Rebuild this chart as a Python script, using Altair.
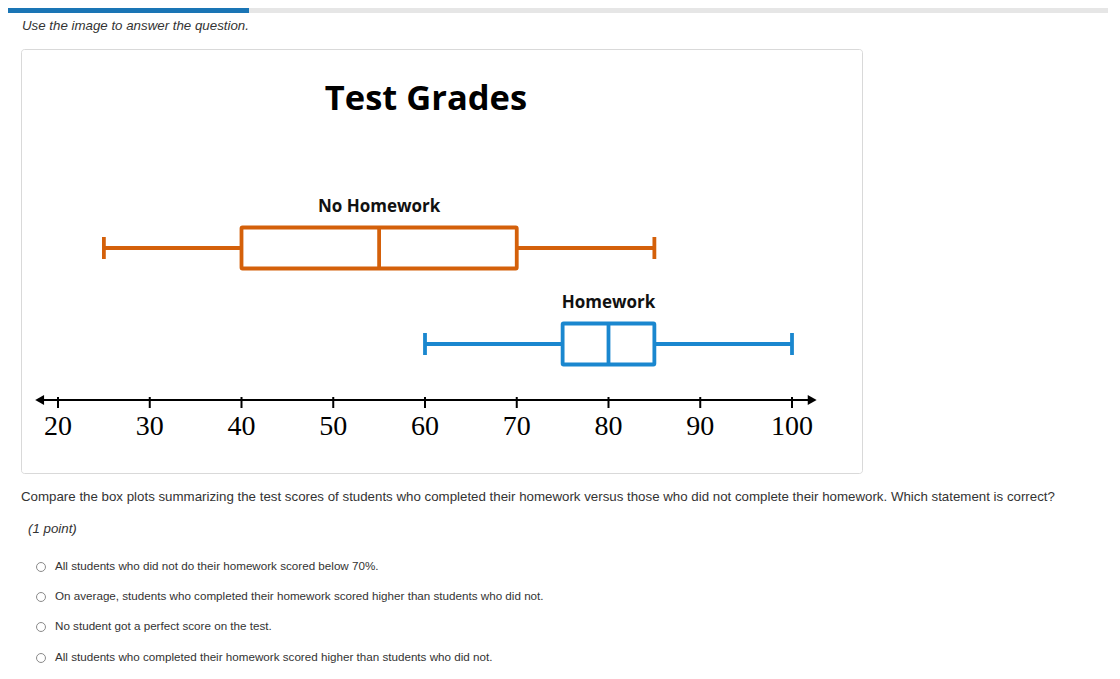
import altair as alt
import pandas as pd

# box plot summaries
groups = ["No Homework", "Homework"]
mins = [25, 60]
q1s = [40, 75]
medians = [55, 80]
q3s = [70, 85]
maxs = [85, 100]

tick_values = [20, 30, 40, 50, 60, 70, 80, 90, 100]
axis_ends = [18.0, 102.2]

colors = ["#D4600A", "#1A87CF"]

title_text = "Test Grades"
intro_text = "Use the image to answer the question."
question_text = ("Compare the box plots summarizing the test scores of students who completed "
                 "their homework versus those who did not complete their homework. "
                 "Which statement is correct?")
points_text = "(1 point)"
options = [
    "All students who did not do their homework scored below 70%.",
    "On average, students who completed their homework scored higher than students who did not.",
    "No student got a perfect score on the test.",
    "All students who completed their homework scored higher than students who did not.",
]

W, H = 1100, 658
SANS = "Liberation Sans"
STROKE = 3.8
X_SCALE = alt.Scale(domain=[20, 100], range=[50, 784])
Y_SCALE = alt.Scale(type="point", domain=groups, range=[240, 336], padding=0)
COLOR_SCALE = alt.Scale(domain=groups, range=colors)

box_df = pd.DataFrame({"group": groups, "min": mins, "q1": q1s,
                       "median": medians, "q3": q3s, "max": maxs})
ticks_df = pd.DataFrame({"value": tick_values})
ends_df = pd.DataFrame({"value": axis_ends, "shape": ["triangle-left", "triangle-right"]})


def page_text(text, x, y, size=13.3, weight="normal", style="normal", font=SANS,
              align="left", color="#333333", baseline="alphabetic"):
    return alt.Chart(pd.DataFrame({"t": [text]})).mark_text(
        font=font, fontSize=size, fontWeight=weight, fontStyle=style,
        align=align, baseline=baseline, color=color,
    ).encode(x=alt.value(x), y=alt.value(y), text="t:N")


def page_rect(x, y, x2, y2, fill, stroke=None, radius=0):
    kw = dict(fill=fill, cornerRadius=radius)
    if stroke:
        kw.update(stroke=stroke, strokeWidth=1)
    return alt.Chart(pd.DataFrame({"a": [0]})).mark_rect(**kw).encode(
        x=alt.value(x), x2=alt.value(x2), y=alt.value(y), y2=alt.value(y2))


# page furniture
top_blue = page_rect(0, 0, 241, 5, "#1A75B5")
top_grey = page_rect(241, 0, W, 5, "#E6E6E6")
panel = page_rect(13.5, 41.5, 854.5, 465.5, "white", stroke="#D9D9D9", radius=3)

layers = [
    top_grey, top_blue,
    page_text(intro_text, 14, 22, style="italic"),
    panel,
    page_text(title_text, 418, 102, size=34.5, weight="bold", font="Open Sans",
              align="center", color="black"),
]

base = alt.Chart(box_df)
whiskers = base.mark_rule(strokeWidth=STROKE).encode(
    x=alt.X("min:Q", scale=X_SCALE, axis=None), x2="max:Q",
    y=alt.Y("group:N", scale=Y_SCALE, axis=None),
    color=alt.Color("group:N", scale=COLOR_SCALE, legend=None),
)
boxes = base.mark_bar(size=41, fill="white", strokeWidth=STROKE, cornerRadius=1).encode(
    x=alt.X("q1:Q", scale=X_SCALE, axis=None), x2="q3:Q",
    y=alt.Y("group:N", scale=Y_SCALE, axis=None),
    stroke=alt.Stroke("group:N", scale=COLOR_SCALE, legend=None),
)
median_ticks = base.mark_tick(size=41, thickness=STROKE, opacity=1).encode(
    x=alt.X("median:Q", scale=X_SCALE, axis=None),
    y=alt.Y("group:N", scale=Y_SCALE, axis=None),
    color=alt.Color("group:N", scale=COLOR_SCALE, legend=None),
)
min_caps = base.mark_tick(size=22, thickness=STROKE, opacity=1).encode(
    x=alt.X("min:Q", scale=X_SCALE, axis=None),
    y=alt.Y("group:N", scale=Y_SCALE, axis=None),
    color=alt.Color("group:N", scale=COLOR_SCALE, legend=None),
)
max_caps = base.mark_tick(size=22, thickness=STROKE, opacity=1).encode(
    x=alt.X("max:Q", scale=X_SCALE, axis=None),
    y=alt.Y("group:N", scale=Y_SCALE, axis=None),
    color=alt.Color("group:N", scale=COLOR_SCALE, legend=None),
)
group_labels = base.mark_text(font="Open Sans", fontWeight="bold", fontSize=17,
                              dy=-41, color="#111111").encode(
    x=alt.X("median:Q", scale=X_SCALE, axis=None),
    y=alt.Y("group:N", scale=Y_SCALE, axis=None),
    text="group:N",
)

# number line with arrows
axis_line = alt.Chart(ends_df).mark_rule(color="black", strokeWidth=2).encode(
    x=alt.X("min(value):Q", scale=X_SCALE, axis=None),
    x2="max(value):Q",
    y=alt.value(392),
)
arrows = alt.Chart(ends_df).mark_point(filled=True, size=105, color="black", opacity=1).encode(
    x=alt.X("value:Q", scale=X_SCALE, axis=None),
    y=alt.value(392),
    shape=alt.Shape("shape:N", scale=None, legend=None),
)
tick_marks = alt.Chart(ticks_df).mark_rule(color="black", strokeWidth=2).encode(
    x=alt.X("value:Q", scale=X_SCALE, axis=None),
    y=alt.value(389), y2=alt.value(400),
)
tick_labels = alt.Chart(ticks_df).mark_text(
    font="Liberation Serif", fontSize=28, baseline="alphabetic", color="black"
).encode(
    x=alt.X("value:Q", scale=X_SCALE, axis=None),
    y=alt.value(427),
    text="value:Q",
)

layers += [whiskers, boxes, median_ticks, min_caps, max_caps, group_labels,
           axis_line, arrows, tick_marks, tick_labels]

# question and answer options
layers.append(page_text(question_text, 13, 493))
layers.append(page_text(points_text, 20, 525, style="italic"))
option_ys = [559, 589, 619, 650]
for text, y in zip(options, option_ys):
    circle = alt.Chart(pd.DataFrame({"a": [0]})).mark_point(
        shape="circle", size=80, filled=False, stroke="#8A8A8A", strokeWidth=1, opacity=1
    ).encode(x=alt.value(33), y=alt.value(y))
    layers.append(circle)
    layers.append(page_text(text, 47, y, size=11.65, baseline="middle"))

chart = alt.layer(*layers).properties(
    width=W, height=H, padding=0, autosize="none", background="white"
).configure_view(strokeWidth=0)

chart.save("out.html", embed_options={"renderer": "svg", "actions": False})
